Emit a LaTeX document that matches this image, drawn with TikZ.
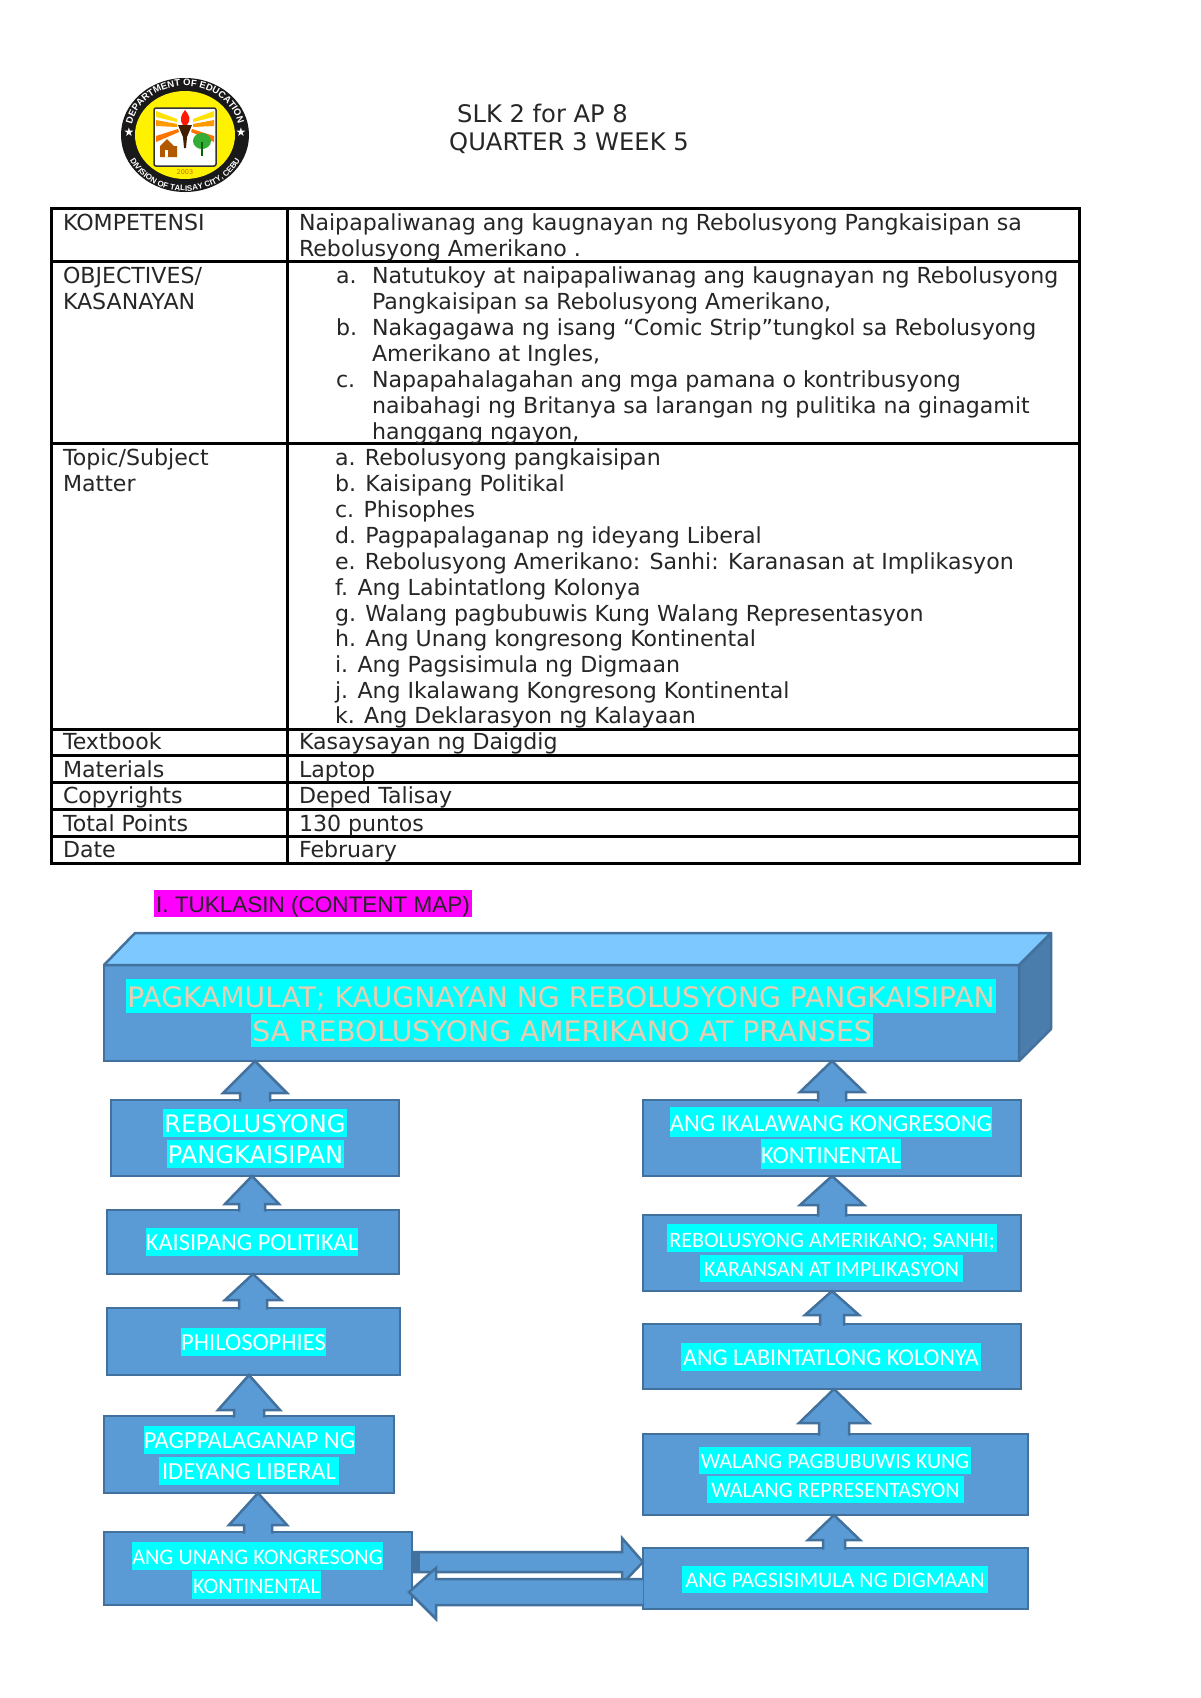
\documentclass[tikz,border=0pt]{standalone}
\usepackage{fontspec}
\setmainfont{DejaVu Sans}
\newfontfamily\carl{Carlito}
\newfontfamily\libs{Liberation Sans}
\usetikzlibrary{decorations.text,calc}
\definecolor{boxfill}{HTML}{5B9BD5}
\definecolor{boxline}{HTML}{41719C}
\definecolor{topface}{HTML}{7CC8FF}
\definecolor{sideface}{HTML}{4A7DAB}
\definecolor{tantext}{HTML}{E8CDB0}
\definecolor{hlcyan}{HTML}{00FFFF}
\definecolor{hlmagenta}{HTML}{FF00FF}
\newcommand{\tf}{\fontsize{22.1}{26}\selectfont}
\newcommand{\dn}[2]{\raisebox{0pt}[\dimexpr\height+#1\relax][0pt]{#2}}
\tikzset{
  cell/.style={anchor=base west,inner sep=0pt,outer sep=0pt,font=\tf,text=black!85},
  blockbox/.style={draw=boxline,line width=2.5pt,fill=boxfill,inner sep=0pt,outer sep=0pt},
  blockarrow/.style={draw=boxline,line width=2.5pt,fill=boxfill,line join=miter},
  hl/.style={fill=hlcyan,text=white,inner sep=0pt,outer sep=0pt},
  rule/.style={line width=3pt,draw=black}
}
% box by its corners
\newcommand{\boxat}[5]{%
  \pgfmathsetmacro{\bw}{#4-#2}\pgfmathsetmacro{\bh}{#5-#3}%
  \pgfmathsetmacro{\bx}{(#4+#2)/2}\pgfmathsetmacro{\by}{(#5+#3)/2}%
  \node[blockbox,minimum width=\bw pt,minimum height=\bh pt] (#1) at (\bx,\by) {};}
% highlighted line: name,x1,x2,yc,h,font,text
\newcommand{\lineat}[7]{%
  \pgfmathsetmacro{\bw}{#3-#2}\pgfmathsetmacro{\bx}{(#3+#2)/2}%
  \node[hl,minimum width=\bw pt,minimum height=#5pt,font=#6] (#1) at (\bx,#4) {\dn{2pt}{#7}};}
% block arrow: lower box, upper box, x, head half, shaft half, head height
\newcommand{\blockup}[6]{%
  \coordinate (tip) at (#3,0 |- #2.south);
  \coordinate (bot) at (#3,0 |- #1.north);
  \path[blockarrow] ([xshift=-#5pt,yshift=-1.5pt]bot) -- ([xshift=-#5pt,yshift=-#6pt]tip)
    -- ([xshift=-#4pt,yshift=-#6pt]tip) -- (tip) -- ([xshift=#4pt,yshift=-#6pt]tip)
    -- ([xshift=#5pt,yshift=-#6pt]tip) -- ([xshift=#5pt,yshift=-1.5pt]bot);}
\newcommand{\cf}[1]{\carl\fontsize{#1}{#1}\selectfont}
\begin{document}
\begin{tikzpicture}[x=1pt,y=-1pt]
\useasboundingbox (0,0) rectangle (1200,1698);
\fill[white] (0,0) rectangle (1200,1698);

%% ---- logo ----
\fill[black!90] (185,135) ellipse[x radius=64pt,y radius=57pt];
\fill[yellow] (185,135) ellipse[x radius=50pt,y radius=44pt];
\path[decorate,decoration={text along path,text align=center,text color=white,
  text={|\libs\bfseries\fontsize{9.5}{9.5}\selectfont|DEPARTMENT OF EDUCATION}}]
  (131,133) arc[start angle=180,end angle=0,x radius=54pt,y radius=47pt];
\path[decorate,decoration={text along path,text align=center,text color=white,
  text={|\libs\bfseries\fontsize{8}{8}\selectfont|DIVISION OF TALISAY CITY, CEBU}}]
  (124,137) arc[start angle=180,end angle=360,x radius=61pt,y radius=54pt];
\node[text=white,inner sep=0pt,font=\fontsize{12}{12}\selectfont] (starl) at (129,132) {★};
\node[text=white,inner sep=0pt,font=\fontsize{12}{12}\selectfont] (starr) at (241,132) {★};
\draw[black!80,line width=1.5pt,fill=white,rounded corners=2pt] (154,108) rectangle (216,166);
\fill[yellow!85!orange] (156,111) -- (177,119) -- (177,122) -- (156,117) -- cycle;
\fill[yellow!85!orange] (214,111) -- (193,119) -- (193,122) -- (214,117) -- cycle;
\fill[orange!80!yellow] (156,120) -- (177,124) -- (177,127) -- (156,126) -- cycle;
\fill[orange!80!yellow] (214,120) -- (193,124) -- (193,127) -- (214,126) -- cycle;
\fill[orange!90!red] (156,136) -- (178,129) -- (179,132) -- (156,142) -- cycle;
\fill[orange!90!red] (214,136) -- (192,129) -- (191,132) -- (214,142) -- cycle;
\fill[red!80!orange] (185,110) .. controls (190,116) and (191,120) .. (187,125) -- (183,125) .. controls (179,120) and (181,115) .. (185,110) -- cycle;
\fill[black!75!orange] (178,125) -- (192,125) -- (187,137) -- (186,148) -- (184,148) -- (183,137) -- cycle;
\fill[orange!70!black] (160,157) -- (160,146) -- (167,139) -- (174,146) -- (177,146) -- (177,157) -- cycle;
\fill[white] (165,150) rectangle (168,157);
\fill[green!60!black!80] (202,141) ellipse[x radius=9pt,y radius=8pt];
\draw[black!60!green,line width=1.2pt] (202,142) -- (202,156);
\node[inner sep=0pt,text=orange!80!black,font=\fontsize{6.5}{7}\selectfont] (year) at (185,172) {2003};

%% ---- heading ----
\node[anchor=base west,inner sep=0pt,font=\fontsize{24.2}{28}\selectfont,text=black!85] (head1) at (457,122) {SLK 2 for AP 8};
\node[anchor=base west,inner sep=0pt,font=\fontsize{24.2}{28}\selectfont,text=black!85] (head2) at (449,150) {QUARTER 3 WEEK 5};

%% ---- table ----
\draw[rule] (51,208) rectangle (1079,863);
\draw[rule] (287,208) -- (287,863);
\foreach \yy in {261,443,729,755,782,809,836} \draw[rule] (51,\yy) -- (1079,\yy);

\node[cell] (k1) at (63,230) {KOMPETENSI};
\node[cell] (k2) at (299,230) {Naipapaliwanag ang kaugnayan ng Rebolusyong Pangkaisipan sa};
\node[cell] (k3) at (299,256) {Rebolusyong Amerikano .};
\node[cell] (o1) at (63,283) {OBJECTIVES/};
\node[cell] (o2) at (63,309) {KASANAYAN};
\node[cell] (oa) at (336,283) {a.};
\node[cell] (oa1) at (372,283) {Natutukoy at naipapaliwanag ang kaugnayan ng Rebolusyong};
\node[cell] (oa2) at (372,309) {Pangkaisipan sa Rebolusyong Amerikano,};
\node[cell] (ob) at (336,335) {b.};
\node[cell] (ob1) at (372,335) {Nakagagawa ng isang “Comic Strip”tungkol sa Rebolusyong};
\node[cell] (ob2) at (372,361) {Amerikano at Ingles,};
\node[cell] (oc) at (336,387) {c.};
\node[cell] (oc1) at (372,387) {Napapahalagahan ang mga pamana o kontribusyong};
\node[cell] (oc2) at (372,413) {naibahagi ng Britanya sa larangan ng pulitika na ginagamit};
\node[cell] (oc3) at (372,439) {hanggang ngayon,};
\node[cell] (t1) at (63,465) {Topic/Subject};
\node[cell] (t2) at (63,491) {Matter};
\node[cell] (ta) at (335,465) {a. Rebolusyong pangkaisipan};
\node[cell] (tb) at (335,491) {b. Kaisipang Politikal};
\node[cell] (tc) at (335,517) {c. Phisophes};
\node[cell] (td) at (335,543) {d. Pagpapalaganap ng ideyang Liberal};
\node[cell] (te) at (335,569) {e. Rebolusyong Amerikano: Sanhi: Karanasan at Implikasyon};
\node[cell] (tf) at (335,595) {f. Ang Labintatlong Kolonya};
\node[cell] (tg) at (335,621) {g. Walang pagbubuwis Kung Walang Representasyon};
\node[cell] (th) at (335,646) {h. Ang Unang kongresong Kontinental};
\node[cell] (ti) at (335,672) {i. Ang Pagsisimula ng Digmaan};
\node[cell] (tj) at (335,698) {j. Ang Ikalawang Kongresong Kontinental};
\node[cell] (tk) at (335,723) {k. Ang Deklarasyon ng Kalayaan};
\node[cell] (r1l) at (63,749) {Textbook};
\node[cell] (r1r) at (299,749) {Kasaysayan ng Daigdig};
\node[cell] (r2l) at (63,777) {Materials};
\node[cell] (r2r) at (299,777) {Laptop};
\node[cell] (r3l) at (63,803) {Copyrights};
\node[cell] (r3r) at (299,803) {Deped Talisay};
\node[cell] (r4l) at (63,831) {Total Points};
\node[cell] (r4r) at (299,831) {130 puntos};
\node[cell] (r5l) at (63,857) {Date};
\node[cell] (r5r) at (299,857) {February};

%% ---- section label ----
\node[fill=hlmagenta,inner sep=0pt,outer sep=0pt,minimum width=318pt,minimum height=27pt,
  font=\libs\fontsize{22.5}{27}\selectfont,text=black!85] (sec) at (313,903) {\dn{2pt}{I. TUKLASIN (CONTENT MAP)}};

%% ---- top block ----
\boxat{main}{104}{965}{1019}{1061}
\draw[blockbox,fill=topface,line join=round] (main.north west) -- ++(31,-32) -- ++(916,0) -- (main.north east) -- cycle;
\draw[blockbox,fill=sideface,line join=round] (main.north east) -- ++(32,-32) -- ++(0,96) -- (main.south east) -- cycle;
\lineat{m1}{126}{996}{996}{34}{\fontsize{28.2}{32}\selectfont}{\textcolor{tantext}{PAGKAMULAT; KAUGNAYAN NG REBOLUSYONG PANGKAISIPAN}}
\lineat{m2}{251}{873}{1030}{33}{\fontsize{28.2}{32}\selectfont}{\textcolor{tantext}{SA REBOLUSYONG AMERIKANO AT PRANSES}}

%% ---- left column ----
\boxat{lA}{111}{1100}{399}{1176}
\boxat{lB}{107}{1210}{399}{1274}
\boxat{lC}{107}{1308}{400}{1375}
\boxat{lD}{104}{1416}{394}{1493}
\boxat{lE}{104}{1532}{412}{1605}

%% ---- right column ----
\boxat{rA}{643}{1100}{1021}{1176}
\boxat{rB}{643}{1215}{1021}{1291}
\boxat{rC}{643}{1324}{1021}{1389}
\boxat{rD}{643}{1434}{1028}{1515}
\boxat{rE}{643}{1548}{1028}{1609}

%% ---- up arrows ----
\blockup{lA}{main}{255}{32}{15}{32}
\blockup{lB}{lA}{252}{27}{13}{28}
\blockup{lC}{lB}{253}{28}{14}{26}
\blockup{lD}{lC}{249}{31}{15}{35}
\blockup{lE}{lD}{258}{29}{14}{32}
\blockup{rA}{main}{832}{32}{14}{31}
\blockup{rB}{rA}{832}{32}{14}{29}
\blockup{rC}{rB}{832}{27}{12}{24}
\blockup{rD}{rC}{834}{35}{15}{34}
\blockup{rE}{rD}{834}{26}{11}{25}

%% ---- horizontal arrows ----
\coordinate (ra) at (lE.east |- 0,1562);
\coordinate (rb) at (rE.west |- 0,1562);
\path[blockarrow] ([yshift=10pt]ra) -- ([xshift=-21pt,yshift=10pt]rb) -- ([xshift=-21pt,yshift=24pt]rb)
  -- (rb) -- ([xshift=-21pt,yshift=-22pt]rb) -- ([xshift=-21pt,yshift=-10pt]rb) -- ([yshift=-10pt]ra);
\fill[boxline] ([yshift=10pt]ra) rectangle ([xshift=8pt,yshift=-10pt]ra);
\coordinate (la) at (rE.west |- 0,1592);
\coordinate (lb) at (lE.east |- 0,1592);
\path[blockarrow] ([yshift=13pt]la) -- ([xshift=24pt,yshift=13pt]lb) -- ([xshift=24pt,yshift=24pt]lb)
  -- ([xshift=-3pt]lb) -- ([xshift=24pt,yshift=-27pt]lb) -- ([xshift=24pt,yshift=-13pt]lb) -- ([yshift=-13pt]la);

%% ---- box labels ----
\lineat{lA1}{163}{347}{1123}{28}{\fontsize{24.1}{28}\selectfont}{REBOLUSYONG}
\lineat{lA2}{167}{344}{1154}{28}{\fontsize{24.1}{28}\selectfont}{PANGKAISIPAN}
\lineat{lB1}{146}{358}{1242}{28}{\cf{24.4}}{KAISIPANG POLITIKAL}
\lineat{lC1}{181}{326}{1342}{28}{\cf{24.5}}{PHILOSOPHIES}
\lineat{lD1}{144}{355}{1440}{28}{\cf{24.5}}{PAGPPALAGANAP NG}
\lineat{lD2}{159}{339}{1471}{28}{\cf{24.5}}{IDEYANG LIBERAL}
\lineat{lE1}{132}{383}{1556}{28}{\cf{22.2}}{ANG UNANG KONGRESONG}
\lineat{lE2}{192}{321}{1585}{28}{\cf{22.2}}{KONTINENTAL}
\lineat{rA1}{671}{991}{1122}{30}{\cf{24.5}}{\dn{2pt}{ANG IKALAWANG KONGRESONG}}
\lineat{rA2}{761}{901}{1154}{30}{\cf{24.5}}{\dn{2pt}{KONTINENTAL}}
\lineat{rB1}{667}{997}{1238}{28}{\cf{22}}{\dn{2pt}{REBOLUSYONG AMERIKANO; SANHI;}}
\lineat{rB2}{700}{963}{1268}{27}{\cf{22}}{KARANSAN AT IMPLIKASYON}
\lineat{rC1}{681}{981}{1357}{28}{\cf{24}}{ANG LABINTATLONG KOLONYA}
\lineat{rD1}{699}{971}{1460}{27}{\cf{22}}{WALANG PAGBUBUWIS KUNG}
\lineat{rD2}{707}{964}{1489}{27}{\cf{22}}{WALANG REPRESENTASYON}
\lineat{rE1}{682}{988}{1579}{27}{\cf{22.1}}{ANG PAGSISIMULA NG DIGMAAN}
\end{tikzpicture}
\end{document}
